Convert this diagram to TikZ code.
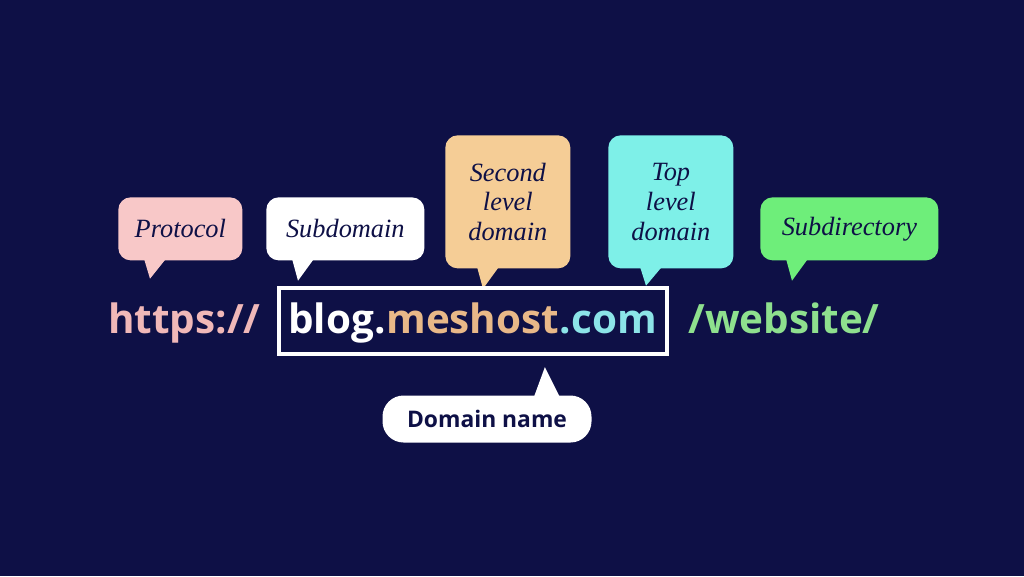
\documentclass[tikz,border=0pt]{standalone}
\usepackage{fontspec}
\setmainfont{Liberation Serif}
\setsansfont{Open Sans}
\usetikzlibrary{positioning,calc}
\definecolor{navybg}{RGB}{14,16,70}
\definecolor{protopink}{RGB}{248,200,200}
\definecolor{secondtan}{RGB}{245,205,150}
\definecolor{topcyan}{RGB}{126,240,232}
\definecolor{subgreen}{RGB}{110,238,122}
\definecolor{urlpink}{RGB}{240,184,184}
\definecolor{urltan}{RGB}{232,184,136}
\definecolor{urlcyan}{RGB}{140,228,232}
\definecolor{urlgreen}{RGB}{142,224,142}
\begin{document}
\begin{tikzpicture}[x=0.02cm,y=-0.02cm,
		% bulles
		bubble/.style={
			rounded corners=7pt,
			text=navybg,
			font=\itshape\fontsize{15}{17}\selectfont,
			align=center,
			inner sep=0pt,
			anchor=north west
		},
		urltext/.style={font=\sffamily\bfseries\fontsize{23}{26}\selectfont, inner sep=0pt, anchor=base west}
	]
	\fill[navybg] (0,0) rectangle (1024,576);

	% les bulles au-dessus
	\node[bubble, fill=protopink, minimum width=124*0.02cm, minimum height=63*0.02cm] (proto) at (118,197) {Protocol};
	\node[bubble, fill=white, minimum width=158*0.02cm, minimum height=63*0.02cm] (subd) at (266,197) {Subdomain};
	\node[bubble, fill=secondtan, minimum width=125*0.02cm, minimum height=133*0.02cm] (second) at (445,135) {Second\\level\\domain};
	\node[bubble, fill=topcyan, minimum width=125*0.02cm, minimum height=133*0.02cm] (top) at (608,135) {Top\\level\\domain};
	\node[bubble, fill=subgreen, minimum width=178*0.02cm, minimum height=63*0.02cm] (subdir) at (760,197) {Subdirectory};

	% pointes des bulles
	\fill[protopink] ($(proto.south west)+(26,-2)$) -- ($(proto.south west)+(32,18)$) -- ($(proto.south west)+(48,-2)$) -- cycle;
	\fill[white] ($(subd.south west)+(26,-2)$) -- ($(subd.south west)+(32,20)$) -- ($(subd.south west)+(48,-2)$) -- cycle;
	\fill[secondtan] ($(second.south west)+(32,-2)$) -- ($(second.south west)+(38,20)$) -- ($(second.south west)+(54,-2)$) -- cycle;
	\fill[topcyan] ($(top.south west)+(32,-2)$) -- ($(top.south west)+(38,17)$) -- ($(top.south west)+(54,-2)$) -- cycle;
	\fill[subgreen] ($(subdir.south west)+(26,-2)$) -- ($(subdir.south west)+(32,20)$) -- ($(subdir.south west)+(48,-2)$) -- cycle;

	% l'adresse
	\node[urltext, text=urlpink] (https) at (108,333) {https://};
	\node[urltext, text=white] (blog) at (288,333) {blog.};
	\node[urltext, text=urltan] (meshost) at (blog.base east) {meshost};
	\node[urltext, text=urlcyan] (com) at (meshost.base east) {.com};
	\node[urltext, text=urlgreen] (website) at (688,333) {/website/};
	\draw[white, line width=2.5pt] (279,288) rectangle (667,354);

	% nom de domaine
	\node[fill=white, rounded corners=12pt, minimum width=209*0.02cm, minimum height=47*0.02cm,
		font=\sffamily\bfseries\fontsize{13}{15}\selectfont, text=navybg, inner sep=0pt] (dname) at (487,419) {Domain name};
	\fill[white] ($(dname.north east)+(-58,2)$) -- ($(dname.north east)+(-47,-28)$) -- ($(dname.north east)+(-32,2)$) -- cycle;
\end{tikzpicture}
\end{document}
